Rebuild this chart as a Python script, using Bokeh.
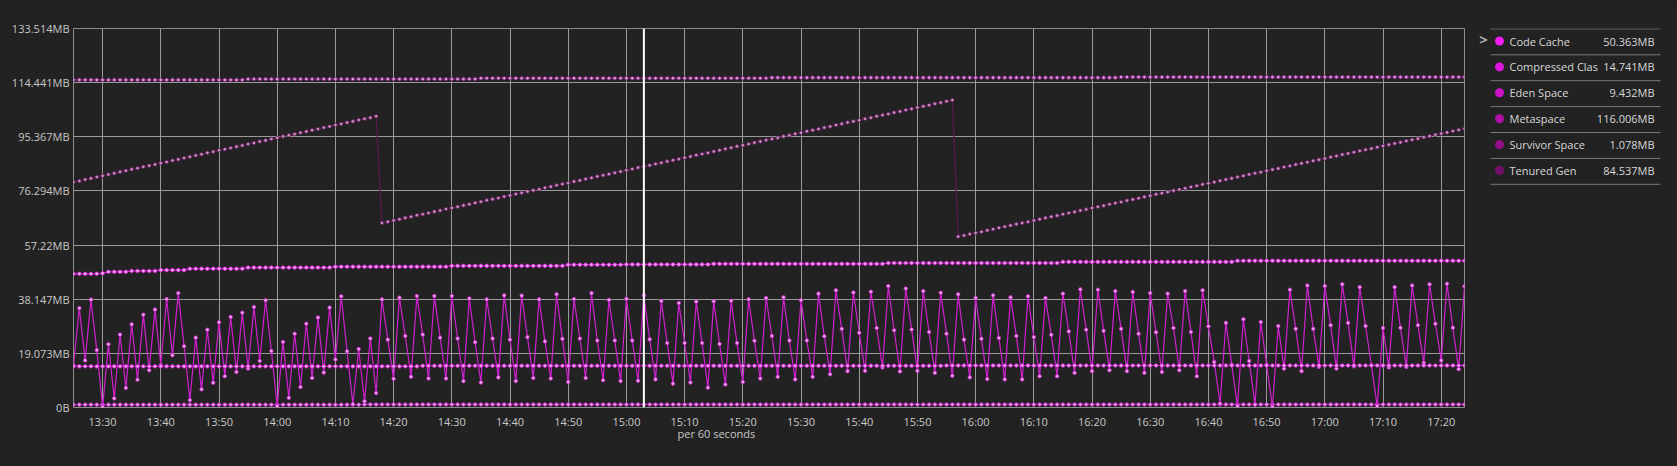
import pandas as pd
from bokeh.plotting import figure
from bokeh.layouts import row
from bokeh.models import Range1d, FixedTicker, DatetimeTickFormatter, Span, Title
from bokeh.core.properties import value
from bokeh.embed import file_html
from bokeh.resources import INLINE

# ---------------- data ----------------
START = "2024-05-14 13:25:00"          # first sample, one sample per 60 seconds
x_tick_labels = ["13:30", "13:40", "13:50", "14:00", "14:10", "14:20", "14:30", "14:40",
                 "14:50", "15:00", "15:10", "15:20", "15:30", "15:40", "15:50", "16:00",
                 "16:10", "16:20", "16:30", "16:40", "16:50", "17:00", "17:10", "17:20"]
y_tick_bytes = [0, 20e6, 40e6, 60e6, 80e6, 100e6, 120e6, 140e6]
y_tick_labels = ["0B", "19.073MB", "38.147MB", "57.22MB", "76.294MB", "95.367MB",
                 "114.441MB", "133.514MB"]
hover_time = "15:03"
x_title = "per 60 seconds"

legend_names = ["Code Cache", "Compressed Clas", "Eden Space", "Metaspace",
                "Survivor Space", "Tenured Gen"]
legend_values = ["50.363MB", "14.741MB", "9.432MB", "116.006MB", "1.078MB", "84.537MB"]

# values in MB (MiB)
code_cache = [
    47.1, 47.1, 47.1, 47.1, 47.1, 47.3, 47.8, 47.8, 47.8, 47.8,
    48.1, 48.1, 48.1, 48.1, 48.1, 48.4, 48.4, 48.4, 48.4, 48.4,
    48.9, 48.9, 48.9, 48.9, 48.9, 48.9, 48.9, 48.9, 48.9, 48.9,
    49.3, 49.3, 49.3, 49.3, 49.3, 49.3, 49.3, 49.3, 49.3, 49.3,
    49.3, 49.3, 49.3, 49.3, 49.3, 49.6, 49.6, 49.6, 49.6, 49.6,
    49.6, 49.6, 49.6, 49.6, 49.6, 49.6, 49.6, 49.6, 49.6, 49.6,
    49.6, 49.6, 49.6, 49.6, 49.6, 49.9, 49.9, 49.9, 49.9, 49.9,
    49.9, 49.9, 49.9, 49.9, 49.9, 49.9, 49.9, 49.9, 49.9, 49.9,
    49.9, 49.9, 49.9, 49.9, 49.9, 50.3, 50.3, 50.3, 50.3, 50.3,
    50.3, 50.3, 50.3, 50.3, 50.3, 50.4, 50.4, 50.4, 50.4, 50.4,
    50.4, 50.4, 50.4, 50.4, 50.4, 50.4, 50.4, 50.4, 50.4, 50.4,
    50.6, 50.6, 50.6, 50.6, 50.6, 50.6, 50.6, 50.6, 50.6, 50.6,
    50.6, 50.6, 50.6, 50.6, 50.6, 50.6, 50.6, 50.6, 50.6, 50.6,
    50.6, 50.6, 50.6, 50.6, 50.6, 50.6, 50.6, 50.6, 50.6, 50.6,
    50.9, 50.9, 50.9, 50.9, 50.9, 50.9, 50.9, 50.9, 50.9, 50.9,
    50.9, 50.9, 50.9, 50.9, 50.9, 50.9, 50.9, 50.9, 50.9, 50.9,
    50.9, 50.9, 50.9, 50.9, 50.9, 50.9, 50.9, 50.9, 50.9, 50.9,
    51.3, 51.3, 51.3, 51.3, 51.3, 51.3, 51.3, 51.3, 51.3, 51.3,
    51.3, 51.3, 51.3, 51.3, 51.3, 51.3, 51.3, 51.3, 51.3, 51.3,
    51.3, 51.3, 51.3, 51.3, 51.3, 51.3, 51.3, 51.3, 51.3, 51.3,
    51.7, 51.7, 51.7, 51.7, 51.7, 51.7, 51.7, 51.7, 51.7, 51.7,
    51.7, 51.7, 51.7, 51.7, 51.7, 51.7, 51.7, 51.7, 51.7, 51.7,
    51.7, 51.7, 51.7, 51.7, 51.7, 51.7, 51.7, 51.7, 51.7, 51.7,
    51.7, 51.7, 51.7, 51.7, 51.7, 51.7, 51.7, 51.7, 51.7, 51.7,
]

compressed_class = [
    14.5, 14.5, 14.5, 14.5, 14.5, 14.5, 14.5, 14.5, 14.5, 14.5,
    14.5, 14.5, 14.5, 14.5, 14.5, 14.5, 14.5, 14.5, 14.5, 14.5,
    14.5, 14.5, 14.5, 14.5, 14.5, 14.5, 14.5, 14.5, 14.5, 14.5,
    14.5, 14.5, 14.5, 14.5, 14.5, 14.5, 14.5, 14.5, 14.5, 14.5,
    14.5, 14.5, 14.5, 14.5, 14.5, 14.5, 14.5, 14.5, 14.5, 14.5,
    14.5, 14.5, 14.5, 14.5, 14.5, 14.5, 14.5, 14.5, 14.5, 14.5,
    14.7, 14.7, 14.7, 14.7, 14.7, 14.7, 14.7, 14.7, 14.7, 14.7,
    14.7, 14.7, 14.7, 14.7, 14.7, 14.7, 14.7, 14.7, 14.7, 14.7,
    14.7, 14.7, 14.7, 14.7, 14.7, 14.7, 14.7, 14.7, 14.7, 14.7,
    14.7, 14.7, 14.7, 14.7, 14.7, 14.7, 14.7, 14.7, 14.7, 14.7,
    14.7, 14.7, 14.7, 14.7, 14.7, 14.7, 14.7, 14.7, 14.7, 14.7,
    14.7, 14.7, 14.7, 14.7, 14.7, 14.7, 14.7, 14.7, 14.7, 14.7,
    14.7, 14.7, 14.7, 14.7, 14.7, 14.7, 14.7, 14.7, 14.7, 14.7,
    14.7, 14.7, 14.7, 14.7, 14.7, 14.7, 14.7, 14.7, 14.7, 14.7,
    14.7, 14.7, 14.7, 14.7, 14.7, 14.7, 14.7, 14.7, 14.7, 14.7,
    14.8, 14.8, 14.8, 14.8, 14.8, 14.8, 14.8, 14.8, 14.8, 14.8,
    14.8, 14.8, 14.8, 14.8, 14.8, 14.8, 14.8, 14.8, 14.8, 14.8,
    14.8, 14.8, 14.8, 14.8, 14.8, 14.8, 14.8, 14.8, 14.8, 14.8,
    14.8, 14.8, 14.8, 14.8, 14.8, 14.8, 14.8, 14.8, 14.8, 14.8,
    14.8, 14.8, 14.8, 14.8, 14.8, 14.8, 14.8, 14.8, 14.8, 14.8,
    14.8, 14.8, 14.8, 14.8, 14.8, 14.8, 14.8, 14.8, 14.8, 14.8,
    14.8, 14.8, 14.8, 14.8, 14.8, 14.8, 14.8, 14.8, 14.8, 14.8,
    14.8, 14.8, 14.8, 14.8, 14.8, 14.8, 14.8, 14.8, 14.8, 14.8,
    14.8, 14.8, 14.8, 14.8, 14.8, 14.8, 14.8, 14.8, 14.8, 14.8,
]

eden_space = [
    14.9, 35.0, 16.6, 38.0, 20.2, 0.2, 22.3, 3.2, 25.7, 6.9,
    29.3, 9.8, 32.7, 13.1, 34.5, 14.9, 38.2, 18.4, 40.3, 21.6,
    2.6, 24.6, 6.4, 27.4, 8.7, 30.0, 11.0, 31.9, 12.5, 33.4,
    13.7, 35.4, 16.4, 37.8, 19.9, 0.5, 23.1, 3.4, 26.0, 7.2,
    29.5, 10.4, 31.7, 12.3, 35.2, 16.9, 39.2, 19.8, 1.2, 20.6,
    2.2, 24.3, 5.1, 38.1, 23.9, 10.1, 38.7, 25.2, 10.8, 39.3,
    25.7, 10.2, 39.3, 24.6, 10.2, 39.3, 24.3, 9.3, 38.4, 23.0,
    8.8, 38.1, 24.3, 10.6, 39.5, 23.9, 9.3, 39.4, 24.8, 10.4,
    38.1, 23.3, 10.2, 39.9, 24.2, 9.0, 38.2, 24.3, 10.4, 40.3,
    23.6, 9.6, 37.9, 23.6, 9.3, 38.3, 23.6, 9.4, 39.5, 24.0,
    9.9, 37.5, 22.7, 8.4, 36.8, 22.7, 8.8, 37.3, 22.7, 7.0,
    37.4, 22.4, 8.1, 37.6, 22.7, 9.0, 38.1, 23.5, 10.2, 38.6,
    25.2, 10.8, 38.8, 23.6, 9.9, 37.8, 23.6, 10.8, 40.1, 25.1,
    11.7, 41.3, 27.7, 12.8, 40.5, 26.3, 12.9, 40.8, 28.0, 14.1,
    42.8, 27.2, 12.7, 41.9, 27.5, 12.9, 41.0, 26.6, 12.2, 40.4,
    26.0, 11.2, 39.9, 23.9, 10.6, 38.6, 24.2, 10.0, 39.5, 24.5,
    9.9, 38.8, 25.2, 9.9, 39.2, 24.8, 11.0, 38.6, 25.6, 11.0,
    40.1, 26.8, 12.2, 41.6, 27.4, 12.8, 41.5, 27.0, 13.1, 41.0,
    27.7, 12.8, 40.7, 26.0, 12.2, 40.3, 26.5, 12.5, 40.1, 28.0,
    13.1, 41.0, 26.6, 11.0, 41.3, 28.6, 16.0, 1.4, 29.8, 15.1,
    0.5, 31.1, 16.4, 1.0, 30.1, 15.1, 0.2, 28.7, 13.7, 41.5,
    27.7, 12.8, 43.0, 27.7, 14.3, 42.8, 29.0, 13.7, 43.4, 29.8,
    14.5, 42.4, 28.7, 14.9, 0.5, 28.0, 14.1, 42.4, 28.1, 14.3,
    43.0, 29.0, 15.7, 43.4, 29.5, 16.6, 43.6, 28.1, 13.5, 42.7,
]

metaspace = [
    115.4, 115.4, 115.4, 115.4, 115.4, 115.4, 115.4, 115.4, 115.4, 115.4,
    115.4, 115.4, 115.4, 115.4, 115.4, 115.4, 115.4, 115.4, 115.4, 115.4,
    115.4, 115.4, 115.4, 115.4, 115.4, 115.4, 115.4, 115.4, 115.4, 115.4,
    115.7, 115.7, 115.7, 115.7, 115.7, 115.7, 115.7, 115.7, 115.7, 115.7,
    115.7, 115.7, 115.7, 115.7, 115.7, 115.7, 115.7, 115.7, 115.7, 115.7,
    115.7, 115.7, 115.7, 115.7, 115.7, 115.7, 115.7, 115.7, 115.7, 115.7,
    115.7, 115.7, 115.7, 115.7, 115.7, 115.7, 115.7, 115.7, 115.7, 115.7,
    116.0, 116.0, 116.0, 116.0, 116.0, 116.0, 116.0, 116.0, 116.0, 116.0,
    116.0, 116.0, 116.0, 116.0, 116.0, 116.0, 116.0, 116.0, 116.0, 116.0,
    116.0, 116.0, 116.0, 116.0, 116.0, 116.0, 116.0, 116.0, 116.0, 116.0,
    116.0, 116.0, 116.0, 116.0, 116.0, 116.0, 116.0, 116.0, 116.0, 116.0,
    116.0, 116.0, 116.0, 116.0, 116.0, 116.0, 116.0, 116.0, 116.0, 116.0,
    116.2, 116.2, 116.2, 116.2, 116.2, 116.2, 116.2, 116.2, 116.2, 116.2,
    116.2, 116.2, 116.2, 116.2, 116.2, 116.2, 116.2, 116.2, 116.2, 116.2,
    116.2, 116.2, 116.2, 116.2, 116.2, 116.2, 116.2, 116.2, 116.2, 116.2,
    116.2, 116.2, 116.2, 116.2, 116.2, 116.2, 116.2, 116.2, 116.2, 116.2,
    116.2, 116.2, 116.2, 116.2, 116.2, 116.2, 116.2, 116.2, 116.2, 116.2,
    116.2, 116.2, 116.2, 116.2, 116.2, 116.2, 116.2, 116.2, 116.2, 116.2,
    116.4, 116.4, 116.4, 116.4, 116.4, 116.4, 116.4, 116.4, 116.4, 116.4,
    116.4, 116.4, 116.4, 116.4, 116.4, 116.4, 116.4, 116.4, 116.4, 116.4,
    116.4, 116.4, 116.4, 116.4, 116.4, 116.4, 116.4, 116.4, 116.4, 116.4,
    116.4, 116.4, 116.4, 116.4, 116.4, 116.4, 116.4, 116.4, 116.4, 116.4,
    116.4, 116.4, 116.4, 116.4, 116.4, 116.4, 116.4, 116.4, 116.4, 116.4,
    116.4, 116.4, 116.4, 116.4, 116.4, 116.4, 116.4, 116.4, 116.4, 116.4,
]

survivor_space = [
    1.0, 1.0, 1.0, 1.0, 1.0, 1.0, 1.0, 1.0, 1.0, 1.0,
    1.0, 1.0, 1.0, 1.0, 1.0, 1.0, 1.0, 1.0, 1.0, 1.0,
    1.0, 1.0, 1.0, 1.0, 1.0, 1.0, 1.0, 1.0, 1.0, 1.0,
    1.0, 1.0, 1.0, 1.0, 1.0, 1.0, 1.0, 1.0, 1.0, 1.0,
    1.0, 1.0, 1.0, 1.0, 1.0, 1.0, 1.0, 1.0, 1.0, 1.0,
    1.08, 1.08, 1.08, 1.08, 1.08, 1.08, 1.08, 1.08, 1.08, 1.08,
    1.08, 1.08, 1.08, 1.08, 1.08, 1.08, 1.08, 1.08, 1.08, 1.08,
    1.08, 1.08, 1.08, 1.08, 1.08, 1.08, 1.08, 1.08, 1.08, 1.08,
    1.08, 1.08, 1.08, 1.08, 1.08, 1.08, 1.08, 1.08, 1.08, 1.08,
    1.08, 1.08, 1.08, 1.08, 1.08, 1.08, 1.08, 1.08, 1.08, 1.08,
    1.08, 1.08, 1.08, 1.08, 1.08, 1.08, 1.08, 1.08, 1.08, 1.08,
    1.08, 1.08, 1.08, 1.08, 1.08, 1.08, 1.08, 1.08, 1.08, 1.08,
    1.08, 1.08, 1.08, 1.08, 1.08, 1.08, 1.08, 1.08, 1.08, 1.08,
    1.08, 1.08, 1.08, 1.08, 1.08, 1.08, 1.08, 1.08, 1.08, 1.08,
    1.08, 1.08, 1.08, 1.08, 1.08, 1.08, 1.08, 1.08, 1.08, 1.08,
    1.08, 1.08, 1.08, 1.08, 1.08, 1.08, 1.08, 1.08, 1.08, 1.08,
    1.08, 1.08, 1.08, 1.08, 1.08, 1.08, 1.08, 1.08, 1.08, 1.08,
    1.08, 1.08, 1.08, 1.08, 1.08, 1.08, 1.08, 1.08, 1.08, 1.08,
    1.08, 1.08, 1.08, 1.08, 1.08, 1.08, 1.08, 1.08, 1.08, 1.08,
    1.08, 1.08, 1.08, 1.08, 1.08, 1.08, 1.08, 1.08, 1.08, 1.08,
    1.08, 1.08, 1.08, 1.08, 1.08, 1.08, 1.08, 1.08, 1.08, 1.08,
    1.08, 1.08, 1.08, 1.08, 1.08, 1.08, 1.08, 1.08, 1.08, 1.08,
    1.08, 1.08, 1.08, 1.08, 1.08, 1.08, 1.08, 1.08, 1.08, 1.08,
    1.08, 1.08, 1.08, 1.08, 1.08, 1.08, 1.08, 1.08, 1.08, 1.08,
]

tenured_gen = [
    79.4, 79.8, 80.3, 80.7, 81.2, 81.6, 82.1, 82.5, 83.0, 83.4,
    83.9, 84.3, 84.8, 85.2, 85.6, 86.1, 86.5, 87.0, 87.4, 87.9,
    88.3, 88.8, 89.2, 89.7, 90.1, 90.6, 91.0, 91.4, 91.9, 92.3,
    92.8, 93.2, 93.7, 94.1, 94.6, 95.0, 95.5, 95.9, 96.3, 96.8,
    97.2, 97.7, 98.1, 98.6, 99.0, 99.5, 99.9, 100.4, 100.8, 101.3,
    101.7, 102.1, 102.6, 65.0, 65.4, 65.9, 66.3, 66.8, 67.2, 67.7,
    68.1, 68.5, 69.0, 69.4, 69.9, 70.3, 70.7, 71.2, 71.6, 72.1,
    72.5, 73.0, 73.4, 73.8, 74.3, 74.7, 75.2, 75.6, 76.1, 76.5,
    76.9, 77.4, 77.8, 78.3, 78.7, 79.1, 79.6, 80.0, 80.5, 80.9,
    81.4, 81.8, 82.2, 82.7, 83.1, 83.6, 84.0, 84.5, 84.9, 85.3,
    85.8, 86.2, 86.7, 87.1, 87.5, 88.0, 88.4, 88.9, 89.3, 89.7,
    90.2, 90.6, 91.1, 91.5, 92.0, 92.4, 92.8, 93.3, 93.7, 94.2,
    94.6, 95.0, 95.5, 95.9, 96.4, 96.8, 97.3, 97.7, 98.1, 98.6,
    99.0, 99.5, 99.9, 100.4, 100.8, 101.2, 101.7, 102.1, 102.6, 103.0,
    103.4, 103.9, 104.3, 104.8, 105.2, 105.7, 106.1, 106.5, 107.0, 107.4,
    107.9, 108.3, 60.2, 60.6, 61.1, 61.5, 61.9, 62.4, 62.8, 63.3,
    63.7, 64.1, 64.6, 65.0, 65.4, 65.9, 66.3, 66.8, 67.2, 67.6,
    68.1, 68.5, 68.9, 69.4, 69.8, 70.3, 70.7, 71.1, 71.6, 72.0,
    72.4, 72.9, 73.3, 73.7, 74.2, 74.6, 75.1, 75.5, 75.9, 76.4,
    76.8, 77.2, 77.7, 78.1, 78.6, 79.0, 79.4, 79.9, 80.3, 80.7,
    81.2, 81.6, 82.1, 82.5, 82.9, 83.4, 83.8, 84.2, 84.7, 85.1,
    85.6, 86.0, 86.4, 86.9, 87.3, 87.7, 88.2, 88.6, 89.1, 89.5,
    89.9, 90.4, 90.8, 91.2, 91.7, 92.1, 92.6, 93.0, 93.4, 93.9,
    94.3, 94.7, 95.2, 95.6, 96.1, 96.5, 96.9, 97.4, 97.8, 98.2,
]

# ---------------- styling ----------------
BG = "#222222"
FONT = "Open Sans"
legend_colors = ["#f01cf0", "#e014e0", "#cc12c8", "#b010a8", "#920e8a", "#74106a"]
# draw order: (values, line colour, dot fill)
series = [
    (tenured_gen, "#5a1a52", "#c98ec3"),
    (survivor_space, "#c01cbe", "#e6a6e2"),
    (metaspace, "#7e1a78", "#d69cd1"),
    (eden_space, "#d020d0", "#e9a8e6"),
    (compressed_class, "#d81ad8", "#eaaae8"),
    (code_cache, "#e01de0", "#eaaae8"),
]

times = pd.date_range(START, periods=len(eden_space), freq="60s")
DAY = START[:10]


def to_ms(ts):
    return pd.Timestamp(ts).value / 1e6


MIB = 1048576.0
y_ticks = [b / MIB for b in y_tick_bytes]
x_ticks = [to_ms(f"{DAY} {t}") for t in x_tick_labels]

MAIN_W, H = 1476, 466
FR_TOP, FR_BOTTOM = 28, 407          # page y of the plot frame
p = figure(width=MAIN_W, height=H, x_axis_type="datetime",
           output_backend="svg", toolbar_location=None,
           x_range=Range1d(to_ms(times[0]), to_ms(times[-1])),
           y_range=Range1d(0, y_ticks[-1]),
           min_border_left=73, min_border_right=MAIN_W - 1464, min_border_top=FR_TOP,
           min_border_bottom=H - FR_BOTTOM,
           background_fill_color=BG, border_fill_color=BG,
           outline_line_color="#8c8c8c")

for vals, lc, dc in series:
    p.line(times, vals, line_color=lc, line_width=1.2)
    p.scatter(times, vals, size=3.6, fill_color=dc, line_color=lc, line_width=0.8)

p.xaxis.ticker = FixedTicker(ticks=x_ticks)
p.xaxis.formatter = DatetimeTickFormatter(minutes="%H:%M", hourmin="%H:%M", hours="%H:%M")
p.yaxis.ticker = FixedTicker(ticks=y_ticks)
p.yaxis.major_label_overrides = {t: l for t, l in zip(y_ticks, y_tick_labels)}
for ax in (p.xaxis, p.yaxis):
    ax.axis_line_color = None
    ax.major_tick_line_color = None
    ax.minor_tick_line_color = None
    ax.major_tick_out = 0
    ax.major_tick_in = 0
    ax.minor_tick_out = 0
    ax.minor_tick_in = 0
    ax.major_label_text_color = "#c8c8c8"
    ax.major_label_text_font = FONT
    ax.major_label_text_font_size = "11px"
p.yaxis.major_label_standoff = 4
p.xaxis.major_label_standoff = 6

p.xgrid.ticker = FixedTicker(ticks=x_ticks)
p.ygrid.ticker = FixedTicker(ticks=y_ticks)
p.grid.grid_line_color = "#9a9a9a"
p.grid.grid_line_width = 1

p.add_layout(Span(location=to_ms(f"{DAY} {hover_time}"), dimension="height",
                  line_color="#ffffff", line_width=2))

p.add_layout(Title(text=x_title, align="left", offset=604, standoff=-16,
                   text_font=FONT, text_font_size="11px", text_font_style="normal",
                   text_color="#c8c8c8"), "below")

# ---------------- legend panel (page pixel coordinates) ----------------
# its frame is aligned with the main frame, so map the range onto page y
LW = 1677 - MAIN_W
leg = figure(width=LW, height=H, x_range=Range1d(MAIN_W, 1677),
             y_range=Range1d(FR_BOTTOM, FR_TOP),
             output_backend="svg", toolbar_location=None, min_border=0,
             min_border_top=FR_TOP, min_border_bottom=H - FR_BOTTOM,
             background_fill_color=BG, border_fill_color=BG, outline_line_color=None)
leg.axis.visible = False
leg.grid.visible = False

n = len(legend_names)
sep_y = [28.4 + 25.9 * i for i in range(n + 1)]
row_y = [40.5 + 25.9 * i for i in range(n)]
leg.segment(x0=[1490] * (n + 1), y0=sep_y, x1=[1660] * (n + 1), y1=sep_y,
            line_color="#7a7a7a", line_width=1)
leg.scatter(x=[1499] * n, y=row_y, size=9, fill_color=legend_colors, line_color=None)
leg.text(x=[1509] * n, y=row_y, text=legend_names, text_font=value(FONT),
         text_font_size="11px", text_color="#d8d8d8", text_baseline="middle",
         text_align="left")
leg.text(x=[1654] * n, y=row_y, text=legend_values, text_font=value(FONT),
         text_font_size="11px", text_color="#d8d8d8", text_baseline="middle",
         text_align="right")
leg.text(x=[1483], y=[38], text=[">"], text_font=value(FONT), text_font_size="15px",
         text_font_style="bold", text_color="#b0b0b0", text_baseline="middle",
         text_align="center")

layout = row(p, leg)
html = file_html(layout, INLINE)
html = html.replace("<head>",
                    "<head><style>html,body{background:#222222;margin:0;padding:0;}</style>", 1)
open("out.html", "w").write(html)
